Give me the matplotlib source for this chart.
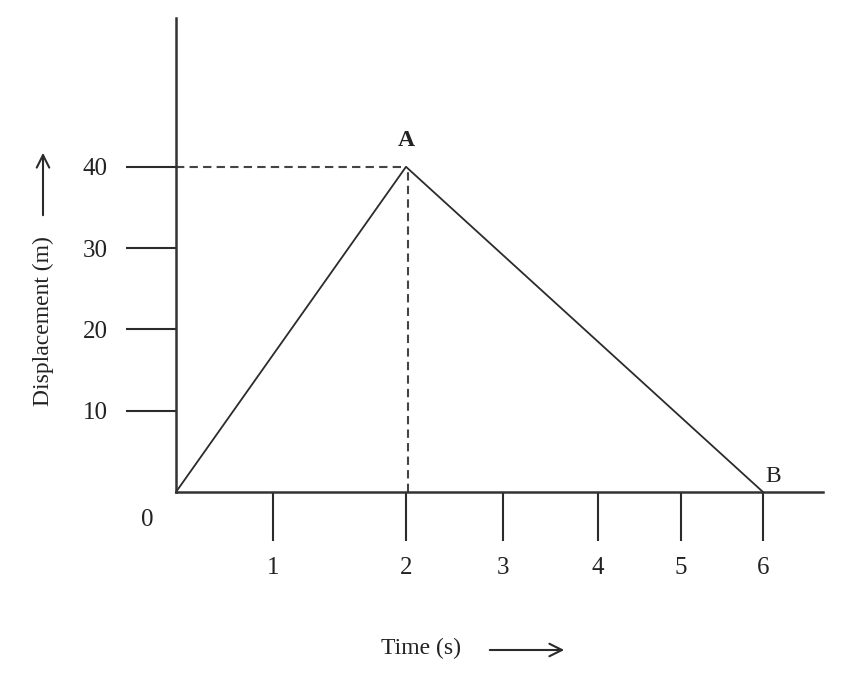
import numpy as np
import matplotlib
matplotlib.use('Agg')
import matplotlib.pyplot as plt

# --- data ---
time_s = [0, 2, 6]
displacement_m = [0, 40, 0]
x_ticks = [1, 2, 3, 4, 5, 6]
y_ticks = [10, 20, 30, 40]
peak = (2, 40)
end = (6, 0)

# the printed time axis is hand-ruled, ticks are not evenly spaced
ruler_t = [0, 1, 2, 3, 4, 5, 6, 6.73]
ruler_px = [0, 97, 230, 327, 422, 505, 587, 647]

def fwd(t):
    return np.interp(t, ruler_t, ruler_px)

def inv(p):
    return np.interp(p, ruler_px, ruler_t)

plt.rcParams['font.family'] = ['Liberation Serif', 'DejaVu Serif']
ink = '#2b2b2b'

W, H = 842, 696
fig = plt.figure(figsize=(W / 100, H / 100), dpi=100)
ax = fig.add_axes([176 / W, (H - 492) / H, (823 - 176) / W, (492 - 18) / H])
ax.set_xscale('function', functions=(fwd, inv))
ax.set_xlim(0, 6.73)
ax.set_ylim(0, 58.3)

for s in ['top', 'right']:
    ax.spines[s].set_visible(False)
for s in ['left', 'bottom']:
    ax.spines[s].set_linewidth(1.8)
    ax.spines[s].set_color('#333333')

ax.plot(time_s, displacement_m, color=ink, lw=1.3, clip_on=False)

# dashed guides to A
ax.plot([0, peak[0]], [peak[1], peak[1]], ls=(0, (4, 2.5)), color='#444444', lw=1.5, clip_on=False)
ax.plot([peak[0] + 0.02, peak[0] + 0.02], [0, peak[1]], ls=(0, (4, 2.5)), color='#444444', lw=1.5, clip_on=False)

ax.set_xticks(x_ticks)
ax.set_yticks(y_ticks)
ax.set_xticklabels([str(t) for t in x_ticks])
ax.set_yticklabels([str(t) for t in y_ticks])
ax.tick_params(axis='x', direction='out', length=35, width=1.5, color=ink, pad=12, labelsize=18, labelcolor='#222222')
ax.tick_params(axis='y', direction='out', length=36, width=1.5, color=ink, pad=13, labelsize=18, labelcolor='#222222')

ax.annotate('A', xy=peak, xytext=(0, 26), textcoords='offset pixels', ha='center', va='center',
            fontsize=17, fontweight='bold', color='#222222')
ax.annotate('B', xy=end, xytext=(10, 16), textcoords='offset pixels', ha='center', va='center',
            fontsize=17, color='#222222')
ax.annotate('0', xy=(0, 0), xytext=(-29, -28), textcoords='offset pixels', ha='center', va='center',
            fontsize=18, color='#222222')

fig.text(43 / W, 1 - 321 / H, 'Displacement (m)', rotation=90, ha='center', va='center',
         fontsize=17, color='#222222')
fig.text(421 / W, 1 - 648 / H, 'Time (s)', ha='center', va='center', fontsize=17, color='#222222')

arrow = dict(arrowstyle='->,head_length=0.9,head_width=0.45', color=ink, lw=1.5)
ax.annotate('', xy=(43, H - 150), xytext=(43, H - 218), xycoords='figure pixels', arrowprops=arrow)
ax.annotate('', xy=(567, H - 650), xytext=(487, H - 650), xycoords='figure pixels', arrowprops=arrow)

fig.savefig('out.png', dpi=100)
